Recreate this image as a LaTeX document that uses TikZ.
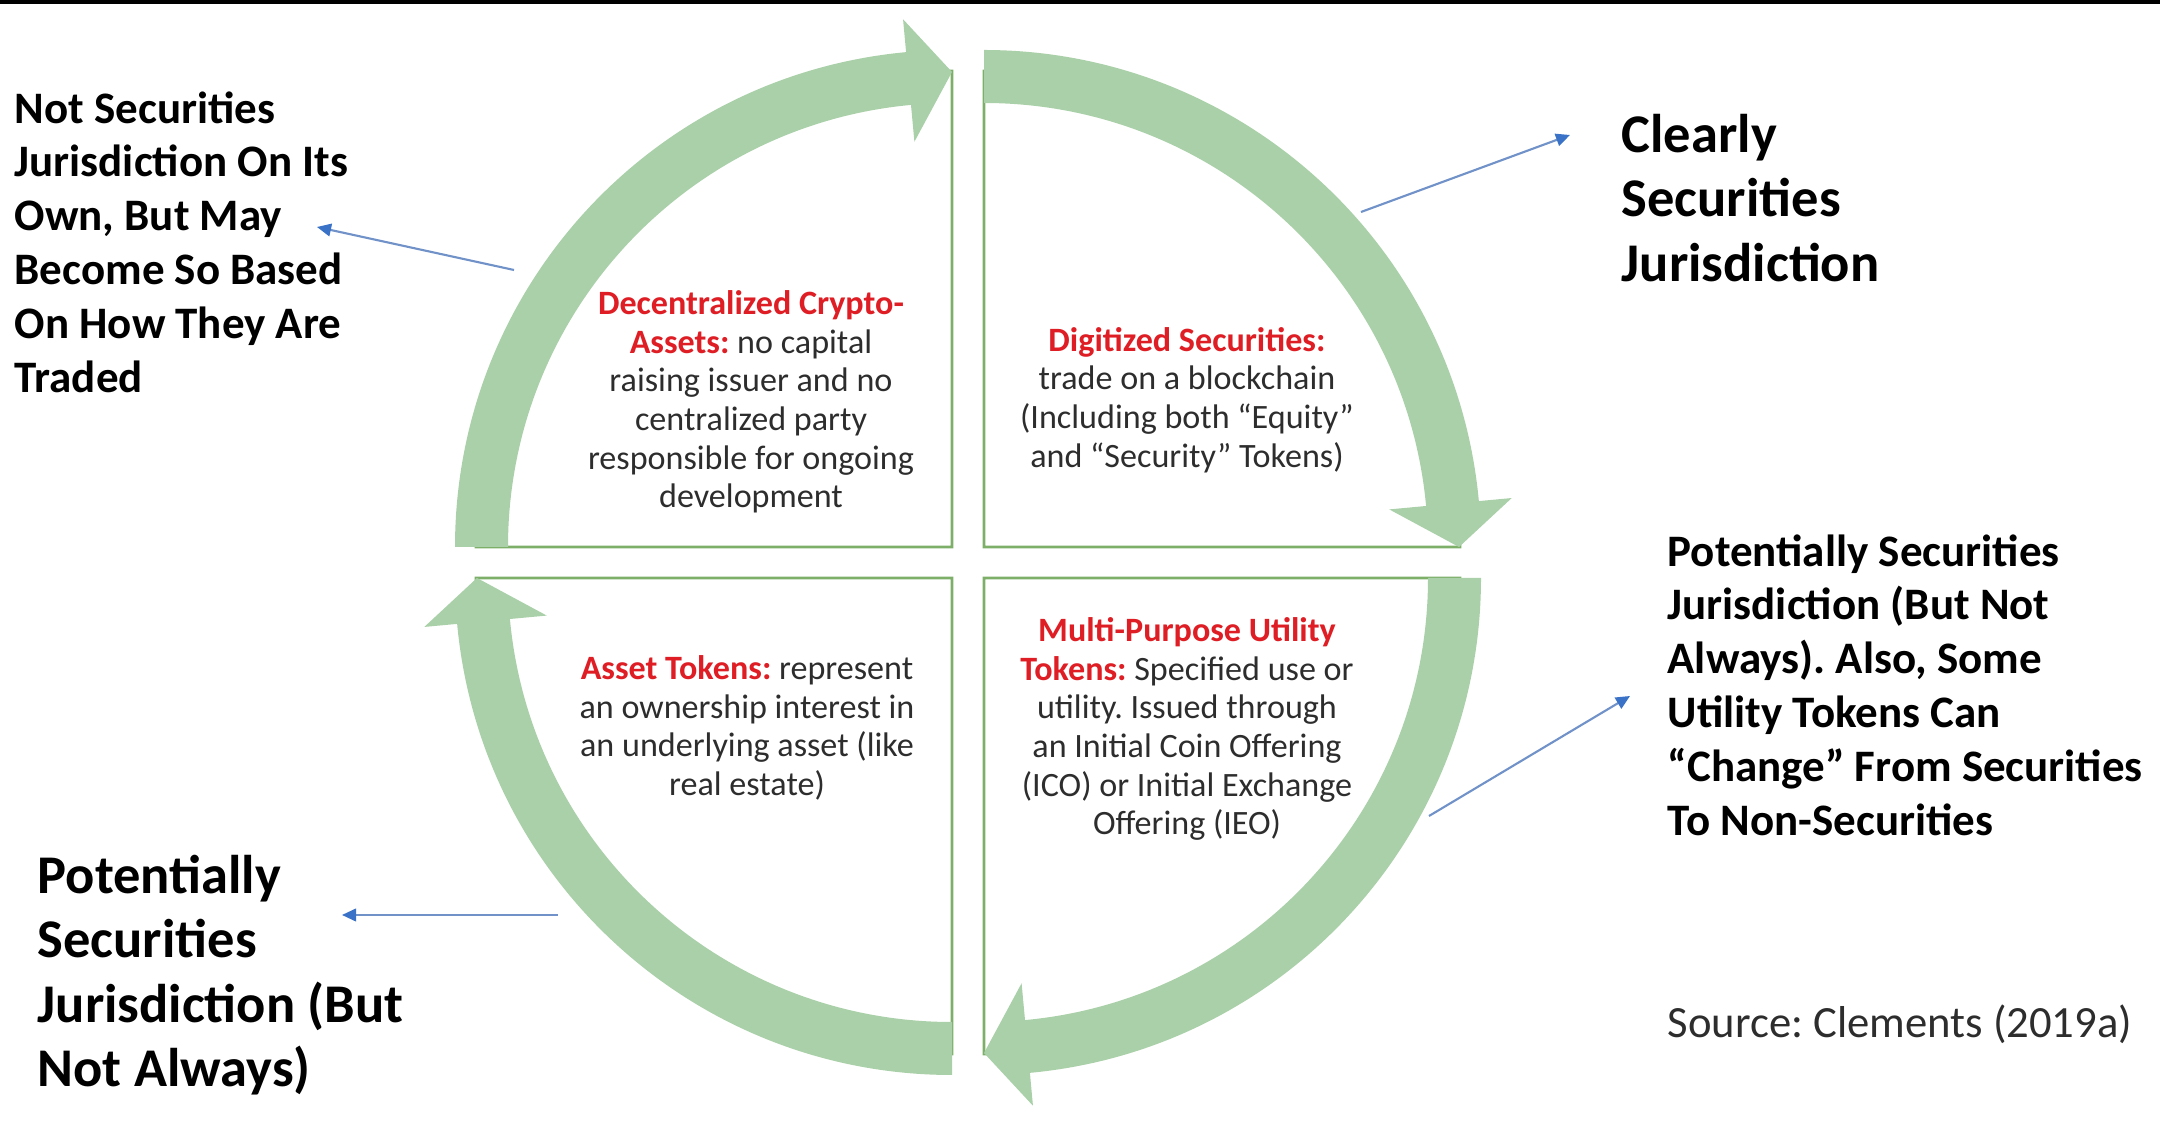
\documentclass[tikz,border=0pt]{standalone}
\usepackage{fontspec}
\setmainfont{Carlito}
\usepackage{tikz}
\usetikzlibrary{arrows.meta}
\usepackage{xcolor}
\frenchspacing
\definecolor{ringgreen}{RGB}{169, 208, 168}
\definecolor{boxgreen}{RGB}{125, 175, 105}
\definecolor{keyred}{RGB}{222, 30, 36}
\definecolor{lineblue}{RGB}{112, 146, 200}
\definecolor{tipblue}{RGB}{58, 114, 200}
\definecolor{bodygray}{RGB}{45, 45, 45}
\newcommand{\redkey}[1]{{\color{keyred}\bfseries #1}}
\tikzset{
  ringarrow/.style      = {fill=ringgreen},
  quadbox/.style        = {draw=boxgreen, line width=0.8pt},
  quadtxt/.style        = {align=center, inner sep=0pt, text=bodygray, font=\fontsize{9.7}{11}\selectfont},
  bigtag/.style         = {anchor=west, align=left, inner sep=0pt, font=\fontsize{15.5}{18.3}\selectfont\bfseries},
  midtag/.style         = {anchor=west, align=left, inner sep=0pt, font=\fontsize{12.8}{15.3}\selectfont\bfseries},
  srcnote/.style        = {anchor=west, inner sep=0pt, text=bodygray, font=\fontsize{12.7}{15}\selectfont},
  pointer/.style        = {-{Triangle[length=4pt, width=3.6pt, color=tipblue]}, draw=lineblue, line width=0.6pt},
}

\begin{document}
\begin{tikzpicture}[x=0.01cm, y=0.01cm]
  % 边界框与顶部黑边
  \useasboundingbox (0,0) rectangle (2160,1130);
  \fill[black] (0,1126) rectangle (2160,1130);

  \coordinate (tlc) at (952,583);
  \coordinate (trc) at (984,583);
  \coordinate (brc) at (984,552);
  \coordinate (blc) at (952,552);

  \begin{scope}[shift={(tlc)}]
    \draw[quadbox] (0,0) -- (90:476) arc[start angle=90, end angle=180, radius=476] -- cycle;
    \fill[ringarrow] (180:497) arc[start angle=180, end angle=95.3, radius=497] -- (95.3:530) -- (90:475)
      -- (95.3:407) -- (95.3:444) arc[start angle=95.3, end angle=180, radius=444] -- cycle;
  \end{scope}

  \begin{scope}[shift={(trc)}]
    \draw[quadbox] (0,0) -- (0:476) arc[start angle=0, end angle=90, radius=476] -- cycle;
    \fill[ringarrow] (90:497) arc[start angle=90, end angle=5.3, radius=497] -- (5.3:530) -- (0:475)
      -- (5.3:407) -- (5.3:444) arc[start angle=5.3, end angle=90, radius=444] -- cycle;
  \end{scope}

  \begin{scope}[shift={(brc)}]
    \draw[quadbox] (0,0) -- (-90:476) arc[start angle=-90, end angle=0, radius=476] -- cycle;
    \fill[ringarrow] (0:497) arc[start angle=0, end angle=-84.7, radius=497] -- (-84.7:530) -- (-90:475)
      -- (-84.7:407) -- (-84.7:444) arc[start angle=-84.7, end angle=0, radius=444] -- cycle;
  \end{scope}

  \begin{scope}[shift={(blc)}]
    \draw[quadbox] (0,0) -- (180:476) arc[start angle=180, end angle=270, radius=476] -- cycle;
    \fill[ringarrow] (270:497) arc[start angle=270, end angle=185.3, radius=497] -- (185.3:530) -- (180:475)
      -- (185.3:407) -- (185.3:444) arc[start angle=185.3, end angle=270, radius=444] -- cycle;
  \end{scope}

  \node[quadtxt] (decent) at (751,728) {\redkey{Decentralized Crypto-}\\\redkey{Assets:} no capital\\raising issuer and no\\centralized party\\responsible for ongoing\\development};
  \node[quadtxt] (digit) at (1187,730) {\redkey{Digitized Securities:}\\trade on a blockchain\\(Including both “Equity”\\and “Security” Tokens)};
  \node[quadtxt] (asset) at (747,402) {\redkey{Asset Tokens:} represent\\an ownership interest in\\an underlying asset (like\\real estate)};
  \node[quadtxt] (multi) at (1187,401) {\redkey{Multi-Purpose Utility}\\\redkey{Tokens:} Specified use or\\utility. Issued through\\an Initial Coin Offering\\(ICO) or Initial Exchange\\Offering (IEO)};

  \node[midtag] (notsec) at (14,888) {Not Securities\\Jurisdiction On Its\\Own, But May\\Become So Based\\On How They Are\\Traded};
  \node[bigtag] (clearsec) at (1621,932) {Clearly\\Securities\\Jurisdiction};
  \node[midtag] (potright) at (1667,445) {Potentially Securities\\Jurisdiction (But Not\\Always). Also, Some\\Utility Tokens Can\\“Change” From Securities\\To Non-Securities};
  \node[bigtag] (potleft) at (37,155) {Potentially\\Securities\\Jurisdiction (But\\Not Always)};
  \node[srcnote] (source) at (1667,106) {Source: Clements (2019a)};

  \coordinate (tlfrom) at (514,860);
  \coordinate (tlto)   at (317,903);
  \coordinate (trfrom) at (1361,918);
  \coordinate (trto)   at (1570,995);
  \coordinate (brfrom) at (1429,314);
  \coordinate (brto)   at (1630,434);
  \coordinate (blfrom) at (558,215);
  \coordinate (blto)   at (342,215);

  \draw[pointer] (tlfrom) -- (tlto);
  \draw[pointer] (trfrom) -- (trto);
  \draw[pointer] (brfrom) -- (brto);
  \draw[pointer] (blfrom) -- (blto);
\end{tikzpicture}
\end{document}
